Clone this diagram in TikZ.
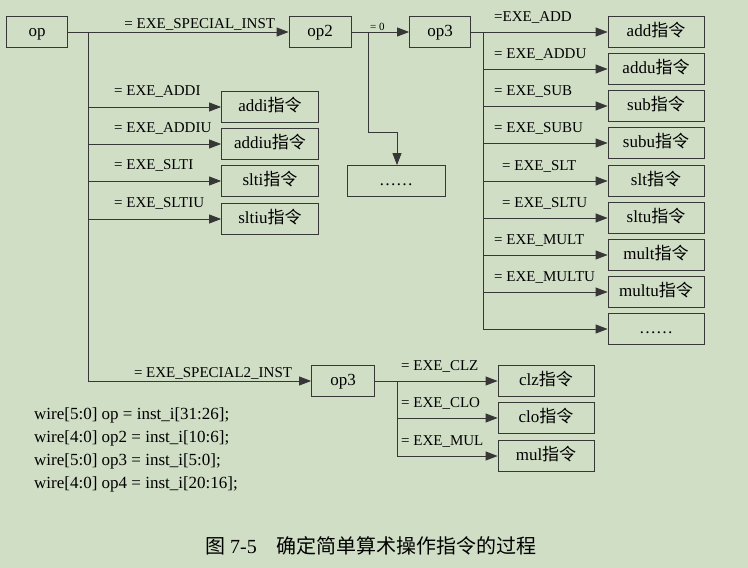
\documentclass[tikz,border=0pt]{standalone}
\usepackage{fontspec}
\setmainfont{Liberation Serif}
\newfontfamily\cjk{Noto Sans CJK SC}
\usetikzlibrary{arrows.meta}
\definecolor{bg}{RGB}{208,222,198}
\definecolor{ln}{RGB}{55,55,55}
\begin{document}
\begin{tikzpicture}[x=1pt,y=-1pt,
  box/.style={draw=ln,line width=0.8pt,minimum height=31pt,inner sep=0pt,text height=12pt,text depth=3pt,font=\fontsize{17}{17}\selectfont},
  wire/.style={draw=ln,line width=0.8pt},
  arr/.style={wire,-{Triangle[length=12pt,width=9pt]}},
  lab/.style={font=\fontsize{15}{15}\selectfont,anchor=south west,inner sep=1pt}]
\fill[bg] (0,0) rectangle (748,568);
\useasboundingbox (0,0) rectangle (748,568);
\newcommand\zl{{\cjk 指令}}
\node[box,minimum width=61pt] (op) at (37,32) {op};
\node[box,minimum width=62pt] (op2) at (320,32) {op2};
\node[box,minimum width=61pt] (op3) at (440,32) {op3};
\node[box,minimum width=98pt] (dots1) at (396,181) {……};
\node[box,minimum width=63pt] (op3b) at (343,381) {op3};
% left branch
\coordinate (t0) at (88,32);
\coordinate (tb) at (88,381);
\draw[arr] (op) -- (op2) node[lab,pos=0.25,anchor=south west] {= EXE\_SPECIAL\_INST};
\draw[wire] (t0) -- (tb);
\foreach \n/\t/\y in {addi/addi/107,addiu/addiu/144,slti/slti/181,sltiu/sltiu/219}{
  \node[box,minimum width=97pt] (\n) at (270,\y) {\t\zl};
  \draw[arr] (88,\y) -- (\n.west);
}
\node[lab] at (113,99) {= EXE\_ADDI};
\node[lab] at (113,136) {= EXE\_ADDIU};
\node[lab] at (113,173) {= EXE\_SLTI};
\node[lab] at (113,211) {= EXE\_SLTIU};
% op2 -> op3
\draw[arr] (op2) -- (op3) node[lab,pos=0.3,font=\fontsize{11}{11}\selectfont] {= 0};
\coordinate (a1) at (368,32);
\coordinate (a2) at (368,132);
\coordinate (a3) at (397,132);
\draw[wire] (a1) -- (a2) -- (a3);
\draw[arr] (a3) -- (dots1.north-|a3);
% op3 right
\draw[wire] (483,32) -- (483,330);
\foreach \n/\t/\y/\l/\lx in {add/add\zl/32/{=EXE\_ADD}/493,addu/addu\zl/69/{= EXE\_ADDU}/493,sub/sub\zl/106/{= EXE\_SUB}/493,subu/subu\zl/143/{= EXE\_SUBU}/493,slt/slt\zl/181/{= EXE\_SLT}/501,sltu/sltu\zl/218/{= EXE\_SLTU}/501,mult/mult\zl/255/{= EXE\_MULT}/493,multu/multu\zl/292/{= EXE\_MULTU}/493,dots2/……/329/{}/493}{
  \node[box,minimum width=96pt] (\n) at (656,\y) {\t};
  \node[lab] at (\lx,\y-7) {\l};
}
\foreach \n in {addu,sub,subu,slt,sltu,mult,multu,dots2}{
  \draw[arr] (483,0|-\n.west) -- (\n.west);
}
\draw[arr] (op3) -- (add);
% bottom
\draw[arr] (tb) -- (op3b) node[lab,pos=0.2] {= EXE\_SPECIAL2\_INST};
\draw[wire] (op3b.east) -- (397,381) -- (397,456);
\foreach \n/\y/\l in {clz/381/{= EXE\_CLZ},clo/418/{= EXE\_CLO},mul/456/{= EXE\_MUL}}{
  \node[box,minimum width=96pt] (\n) at (546,\y) {\n\zl};
  \draw[arr] (397,\y) -- (\n.west);
  \node[lab] at (400,\y-7) {\l};
}
\node[anchor=north west,align=left,font=\fontsize{17}{23}\selectfont,inner sep=0pt] (code) at (34,407)
 {wire[5:0] op = inst\_i[31:26];\\wire[4:0] op2 = inst\_i[10:6];\\wire[5:0] op3 = inst\_i[5:0];\\wire[4:0] op4 = inst\_i[20:16];};
\node[font=\fontsize{20}{20}\selectfont] (cap) at (371,546) {{\cjk 图} 7-5\hspace{20pt}{\cjk 确定简单算术操作指令的过程}};
\end{tikzpicture}
\end{document}
